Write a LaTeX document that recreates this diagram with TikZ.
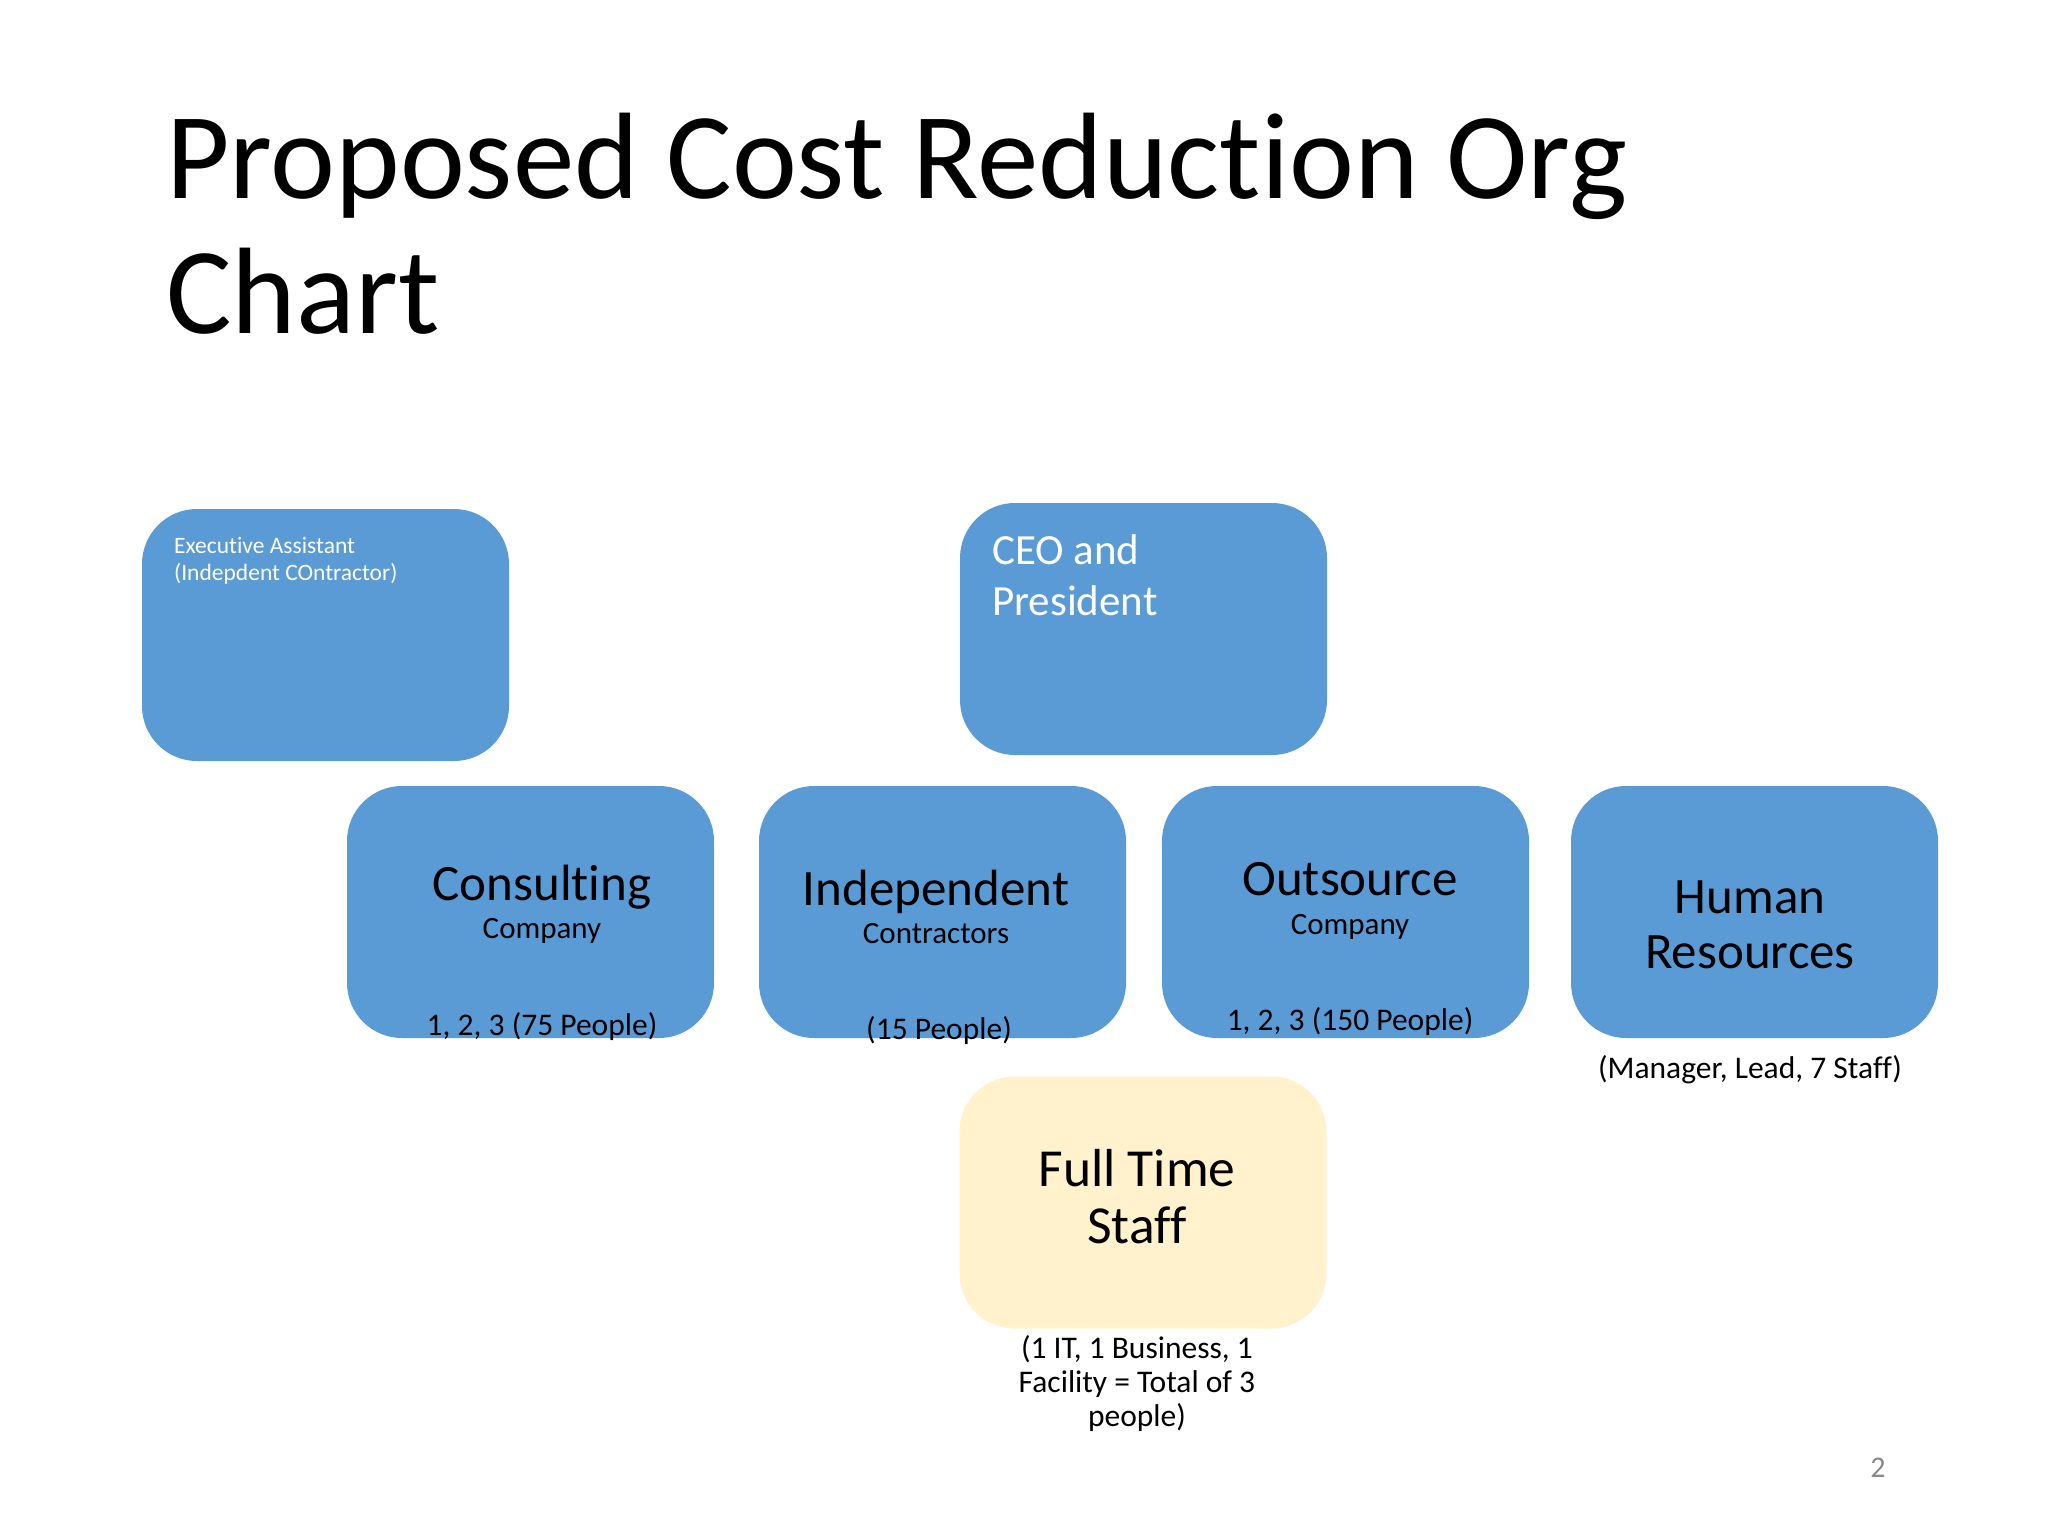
\documentclass[tikz,border=0pt]{standalone}
\usepackage{fontspec}
\setmainfont{Carlito}[RawFeature=-liga]
\definecolor{boxblue}{HTML}{5B9BD5}
\definecolor{boxyellow}{HTML}{FFF2CC}
\definecolor{pagegray}{HTML}{888888}
\begin{document}
\begin{tikzpicture}[x=1pt,y=-1pt,
  box/.style={rounded corners=55pt, minimum width=367pt, minimum height=252pt, inner sep=0pt, draw=none},
  bluebox/.style={box, fill=boxblue},
  yellowbox/.style={box, fill=boxyellow},
  txt/.style={inner sep=0pt, anchor=base},
  bigtxt/.style={txt, font=\fontsize{51}{57}\selectfont},
  midtxt/.style={txt, font=\fontsize{31}{35}\selectfont},
  captxt/.style={txt, font=\fontsize{31.5}{36}\selectfont},
  ttl/.style={inner sep=0pt, anchor=base west, font=\fontsize{123}{135}\selectfont}]
\useasboundingbox[fill=white] (0,0) rectangle (2048,1536);

% title
\node[ttl] (t1) at (166,198) {Proposed Cost Reduction Org};
\node[ttl] (t2) at (166,333) {Chart};

% boxes
\node[bluebox] (exec) at (325.5,635) {};
\node[bluebox] (ceo) at (1143.5,629) {};
\node[bluebox] (cons) at (530.5,912) {};
\node[bluebox] (indep) at (942.5,912) {};
\node[bluebox] (outs) at (1345.5,912) {};
\node[bluebox] (hr) at (1754.5,912) {};
\node[yellowbox] (fts) at (1143,1202.5) {};

% exec assistant
\node[txt, anchor=base west, white, font=\fontsize{23.5}{27}\selectfont] (ex1) at (174,553) {Executive Assistant};
\node[txt, anchor=base west, white, font=\fontsize{23.5}{27}\selectfont] (ex2) at (174,580) {(Indepdent COntractor)};

% CEO
\node[txt, anchor=base west, white, font=\fontsize{43}{51}\selectfont] (ceo1) at (992,564) {CEO and};
\node[txt, anchor=base west, white, font=\fontsize{43}{51}\selectfont] (ceo2) at (992,615) {President};

% consulting
\node[bigtxt] (c1) at (542,900) {Consulting};
\node[midtxt] (c2) at (542,938) {Company};
\node[captxt] (c3) at (542,1035) {1, 2, 3 (75 People)};

% independent
\node[bigtxt] (i1) at (936,905) {Independent};
\node[midtxt] (i2) at (936,943) {Contractors};
\node[captxt] (i3) at (939,1039) {(15 People)};

% outsource
\node[bigtxt] (o1) at (1350,895) {Outsource};
\node[midtxt] (o2) at (1350,934) {Company};
\node[captxt] (o3) at (1350,1030) {1, 2, 3 (150 People)};

% HR
\node[bigtxt] (h1) at (1750,913) {Human};
\node[bigtxt] (h2) at (1750,968) {Resources};
\node[captxt] (h3) at (1750,1078) {(Manager, Lead, 7 Staff)};

% full time staff
\node[bigtxt, font=\fontsize{53.5}{58}\selectfont] (f1) at (1137,1186) {Full Time};
\node[bigtxt, font=\fontsize{53.5}{58}\selectfont] (f2) at (1137,1243) {Staff};
\node[captxt] (f3) at (1137,1358) {(1 IT, 1 Business, 1};
\node[captxt] (f4) at (1137,1392) {Facility = Total of 3};
\node[captxt] (f5) at (1137,1426) {people)};

% page number
\node[txt, pagegray, font=\fontsize{30}{34}\selectfont] (pg) at (1878,1477) {2};
\end{tikzpicture}
\end{document}
